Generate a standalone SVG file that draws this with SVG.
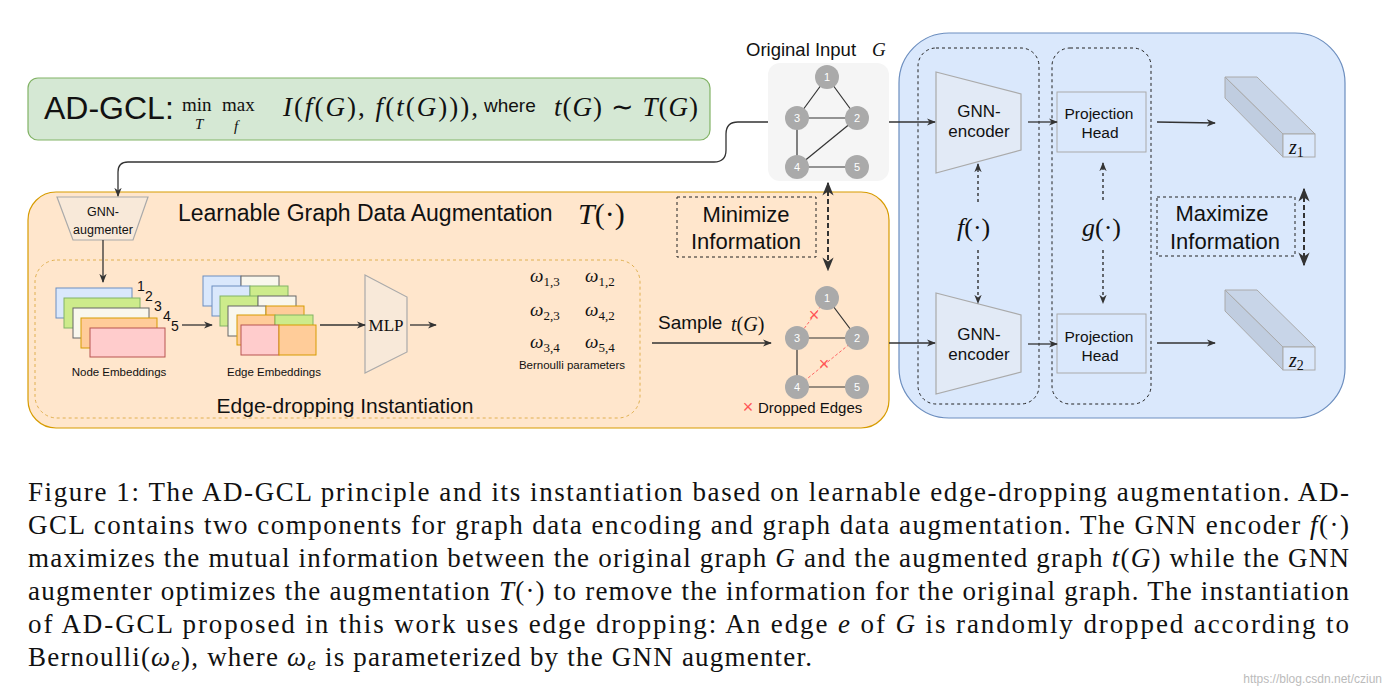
<svg xmlns="http://www.w3.org/2000/svg" width="1392" height="696" viewBox="0 0 1392 696">
<defs>
<marker id="ar" viewBox="0 0 10 10" refX="9" refY="5" markerWidth="7" markerHeight="7" orient="auto-start-reverse"><path d="M0,1 L10,5 L0,9 L3,5 Z" fill="#333"/></marker>
<style>
.s{font-family:"Liberation Sans",Arial,sans-serif;fill:#111}
.m{font-family:"Liberation Serif","Times New Roman",serif;font-style:italic;fill:#111}
.r{font-family:"Liberation Serif","Times New Roman",serif;fill:#111}
.ln{stroke:#333;stroke-width:1.3;fill:none}
.dl{stroke:#222;stroke-width:1.3;fill:none;stroke-dasharray:3 3}
.nd{fill:#aaa}
.nt{font-family:"Liberation Sans",Arial,sans-serif;font-size:11px;fill:#fff;text-anchor:middle}
.ed{stroke:#333;stroke-width:1.2}
.cap{font-family:"Liberation Serif","Times New Roman",serif;font-size:27px;fill:#111}
.trap{fill:#eee;fill-opacity:0.4;stroke:#aaa;stroke-width:1.2}
</style>
</defs>
<rect width="1392" height="696" fill="#fff"/>
<g id="panel-blue"><rect x="899" y="33" width="446" height="385" rx="50" fill="#dae8fc" stroke="#6c8ebf" stroke-width="1.2"/></g>
<g id="panel-orange"><rect x="28" y="192" width="861" height="236" rx="28" fill="#ffe6cc" stroke="#d79b00" stroke-width="1.2"/>
<rect x="35" y="260" width="605" height="158" rx="22" fill="none" stroke="#e0b050" stroke-dasharray="3 3"/>
<text class="s" x="178" y="221" font-size="23">Learnable Graph Data Augmentation</text>
<text class="m" x="578" y="224" font-size="30">T<tspan class="r" font-style="normal">(·)</tspan></text>
<text class="s" x="345" y="413" font-size="21" text-anchor="middle">Edge-dropping Instantiation</text></g>
<g id="objective"><rect x="28" y="78" width="682" height="62" rx="10" fill="#d5e8d4" stroke="#82b366" stroke-width="1.2"/>
<text class="s" x="44" y="119" font-size="32">AD-GCL:</text>
<text class="r" x="182" y="111" font-size="19">min</text><text class="m" x="195" y="129" font-size="15">T</text>
<text class="r" x="222" y="111" font-size="19">max</text><text class="m" x="234" y="131" font-size="15">f</text>
<text class="m" x="283" y="116" font-size="27" textLength="195" lengthAdjust="spacing">I<tspan class="r" font-style="normal">(</tspan>f<tspan class="r" font-style="normal">(</tspan>G<tspan class="r" font-style="normal">), </tspan>f<tspan class="r" font-style="normal">(</tspan>t<tspan class="r" font-style="normal">(</tspan>G<tspan class="r" font-style="normal">))),</tspan></text>
<text class="s" x="484" y="112" font-size="19">where</text>
<text class="m" x="554" y="116" font-size="27" textLength="144" lengthAdjust="spacing">t<tspan class="r" font-style="normal">(</tspan>G<tspan class="r" font-style="normal">) ∼ </tspan>T<tspan class="r" font-style="normal">(</tspan>G<tspan class="r" font-style="normal">)</tspan></text></g>
<g id="original-input">
<text class="s" x="746" y="56" font-size="18.5">Original Input</text><text class="m" x="872" y="56" font-size="19">G</text>
<rect x="768" y="63" width="121" height="118" rx="12" fill="#f5f5f5"/>
<line class="ed" x1="827" y1="77" x2="797" y2="118"/><line class="ed" x1="827" y1="77" x2="857" y2="118"/><line class="ed" x1="797" y1="118" x2="857" y2="118"/><line class="ed" x1="797" y1="118" x2="797" y2="167"/><line class="ed" x1="857" y1="118" x2="797" y2="167"/><line class="ed" x1="797" y1="167" x2="857" y2="167"/>
<circle class="nd" cx="827" cy="77" r="12"/><circle class="nd" cx="797" cy="118" r="12"/><circle class="nd" cx="857" cy="118" r="12"/><circle class="nd" cx="797" cy="167" r="12"/><circle class="nd" cx="857" cy="167" r="12"/>
<text class="nt" x="827" y="81">1</text><text class="nt" x="797" y="122">3</text><text class="nt" x="857" y="122">2</text><text class="nt" x="797" y="171">4</text><text class="nt" x="857" y="171">5</text></g>
<g id="sampled-graph">
<line x1="827" y1="298" x2="797" y2="338" stroke="#f66" stroke-dasharray="3 2"/><line x1="857" y1="338" x2="797" y2="387" stroke="#f66" stroke-dasharray="3 2"/>
<line class="ed" x1="827" y1="298" x2="857" y2="338"/><line class="ed" x1="797" y1="338" x2="857" y2="338"/><line class="ed" x1="797" y1="338" x2="797" y2="387"/><line class="ed" x1="797" y1="387" x2="857" y2="387"/>
<text x="814" y="321" font-size="18" fill="#f55" text-anchor="middle" font-family="Liberation Sans,sans-serif">×</text><text x="824" y="370" font-size="18" fill="#f55" text-anchor="middle" font-family="Liberation Sans,sans-serif">×</text>
<circle class="nd" cx="827" cy="298" r="12"/><circle class="nd" cx="797" cy="338" r="12"/><circle class="nd" cx="857" cy="338" r="12"/><circle class="nd" cx="797" cy="387" r="12"/><circle class="nd" cx="857" cy="387" r="12"/>
<text class="nt" x="827" y="302">1</text><text class="nt" x="797" y="342">3</text><text class="nt" x="857" y="342">2</text><text class="nt" x="797" y="391">4</text><text class="nt" x="857" y="391">5</text>
<text x="748" y="413" font-size="18" fill="#f55" text-anchor="middle" font-family="Liberation Sans,sans-serif">×</text><text class="s" x="758" y="413" font-size="15">Dropped Edges</text></g>
<g id="minimize"><rect x="677" y="197" width="139" height="60" fill="none" stroke="#222" stroke-dasharray="3 3"/>
<text class="s" x="746" y="222" font-size="22" text-anchor="middle">Minimize</text><text class="s" x="746" y="249" font-size="22" text-anchor="middle">Information</text></g>
<g id="gnn-augmenter"><polygon class="trap" points="57,197 148,197 133,240 73,240" fill="#fff"/>
<text class="s" x="103" y="216" font-size="12.5" text-anchor="middle">GNN-</text><text class="s" x="103" y="234" font-size="12.5" text-anchor="middle">augmenter</text></g>
<g id="node-embeddings">
<rect x="56" y="288" width="76" height="30" fill="#dae8fc" stroke="#6c8ebf"/>
<rect x="64" y="298" width="76" height="30" fill="#cdeb8b" stroke="#82b366"/>
<rect x="73" y="308" width="76" height="30" fill="#f9f7ed" stroke="#666"/>
<rect x="81" y="318" width="76" height="30" fill="#ffcc99" stroke="#d79b00"/>
<rect x="90" y="328" width="75" height="29" fill="#ffcccc" stroke="#b85450"/>
<g class="s" font-size="14"><text x="137" y="291">1</text><text x="145" y="301">2</text><text x="154" y="311">3</text><text x="163" y="321">4</text><text x="171" y="331">5</text></g>
<text class="s" x="119" y="376" font-size="11.5" text-anchor="middle">Node Embeddings</text></g>
<g id="edge-embeddings">
<rect x="203" y="276" width="38" height="30" fill="#dae8fc" stroke="#6c8ebf"/><rect x="241" y="276" width="38" height="30" fill="#f9f7ed" stroke="#666"/>
<rect x="212" y="286" width="38" height="30" fill="#dae8fc" stroke="#6c8ebf"/><rect x="250" y="286" width="38" height="30" fill="#cdeb8b" stroke="#82b366"/>
<rect x="220" y="296" width="38" height="30" fill="#cdeb8b" stroke="#82b366"/><rect x="258" y="296" width="38" height="30" fill="#f9f7ed" stroke="#666"/>
<rect x="228" y="306" width="38" height="30" fill="#f9f7ed" stroke="#666"/><rect x="266" y="306" width="38" height="30" fill="#ffcc99" stroke="#d79b00"/>
<rect x="237" y="315" width="38" height="30" fill="#ffcc99" stroke="#d79b00"/><rect x="275" y="315" width="38" height="30" fill="#cdeb8b" stroke="#82b366"/>
<rect x="241" y="325" width="38" height="30" fill="#ffcccc" stroke="#b85450"/><rect x="279" y="325" width="37" height="30" fill="#ffcc99" stroke="#d79b00"/>
<text class="s" x="274" y="376" font-size="11.5" text-anchor="middle">Edge Embeddings</text></g>
<g id="mlp"><polygon class="trap" points="365,275 407,297 407,352 365,373"/><text class="r" x="386" y="331" font-size="17" text-anchor="middle">MLP</text></g>
<g id="bernoulli"><g class="m" font-size="19">
<text x="530" y="282">ω<tspan font-size="13" font-style="normal" dy="4">1,3</tspan></text><text x="585" y="282">ω<tspan font-size="13" font-style="normal" dy="4">1,2</tspan></text>
<text x="530" y="316">ω<tspan font-size="13" font-style="normal" dy="4">2,3</tspan></text><text x="585" y="316">ω<tspan font-size="13" font-style="normal" dy="4">4,2</tspan></text>
<text x="530" y="348">ω<tspan font-size="13" font-style="normal" dy="4">3,4</tspan></text><text x="585" y="348">ω<tspan font-size="13" font-style="normal" dy="4">5,4</tspan></text></g>
<text class="s" x="572" y="369" font-size="11.5" text-anchor="middle">Bernoulli parameters</text></g>
<g id="encoders">
<rect x="918" y="48" width="121" height="356" rx="18" fill="none" stroke="#222" stroke-dasharray="3 3"/>
<rect x="1052" y="48" width="99" height="356" rx="18" fill="none" stroke="#222" stroke-dasharray="3 3"/>
<polygon class="trap" points="936,72 1021,94 1021,150 936,173"/>
<polygon class="trap" points="936,293 1021,315 1021,372 936,394"/>
<g class="s" font-size="17" text-anchor="middle"><text x="979" y="117">GNN-</text><text x="979" y="137">encoder</text><text x="979" y="340">GNN-</text><text x="979" y="360">encoder</text></g>
<text class="m" x="957" y="236" font-size="26">f<tspan class="r" font-style="normal">(·)</tspan></text>
<rect x="1057" y="92" width="89" height="60" fill="#dae8fc" stroke="#aaa"/><rect x="1057" y="314" width="89" height="59" fill="#dae8fc" stroke="#aaa"/>
<g class="s" font-size="15.5" text-anchor="middle"><text x="1099" y="119">Projection</text><text x="1100" y="138">Head</text><text x="1099" y="342">Projection</text><text x="1100" y="361">Head</text></g>
<text class="m" x="1082" y="236" font-size="26">g<tspan class="r" font-style="normal">(·)</tspan></text></g>
<g id="outputs">
<polygon points="1225,77 1257,77 1315,134 1283,134" fill="#c8d5e8" stroke="#aaa"/><polygon points="1225,77 1283,134 1283,157 1225,98" fill="#c0cde0" stroke="#aaa"/><rect x="1283" y="134" width="32" height="23" fill="#dae8fc" stroke="#aaa"/>
<text class="m" x="1289" y="154" font-size="20">z<tspan font-style="normal" font-size="14" dy="3">1</tspan></text>
<polygon points="1225,290 1257,290 1315,347 1283,347" fill="#c8d5e8" stroke="#aaa"/><polygon points="1225,290 1283,347 1283,370 1225,311" fill="#c0cde0" stroke="#aaa"/><rect x="1283" y="347" width="32" height="23" fill="#dae8fc" stroke="#aaa"/>
<text class="m" x="1289" y="367" font-size="20">z<tspan font-style="normal" font-size="14" dy="3">2</tspan></text>
<rect x="1157" y="197" width="138" height="59" fill="none" stroke="#222" stroke-dasharray="3 3"/>
<text class="s" x="1222" y="221" font-size="22" text-anchor="middle">Maximize</text><text class="s" x="1225" y="249" font-size="22" text-anchor="middle">Information</text></g>
<g id="connectors">
<path class="ln" d="M768,122 H738 Q726,122 726,134 V150 Q726,162 714,162 H128 Q118,162 118,172 V196" marker-end="url(#ar)"/>
<line class="ln" x1="103" y1="240" x2="103" y2="282" marker-end="url(#ar)"/>
<line class="ln" x1="182" y1="325" x2="212" y2="325" marker-end="url(#ar)"/>
<line class="ln" x1="320" y1="325" x2="365" y2="325" marker-end="url(#ar)"/>
<line class="ln" x1="410" y1="325" x2="436" y2="325" marker-end="url(#ar)"/>
<line class="ln" x1="652" y1="343" x2="771" y2="343" marker-end="url(#ar)"/>
<text class="s" x="658" y="329" font-size="19">Sample</text><text class="m" x="731" y="331" font-size="20">t<tspan class="r" font-style="normal">(</tspan>G<tspan class="r" font-style="normal">)</tspan></text>
<line class="ln" x1="889" y1="122" x2="935" y2="122" marker-end="url(#ar)"/>
<line class="ln" x1="889" y1="343" x2="935" y2="343" marker-end="url(#ar)"/>
<line class="ln" x1="1028" y1="122" x2="1057" y2="122" marker-end="url(#ar)"/>
<line class="ln" x1="1028" y1="344" x2="1057" y2="344" marker-end="url(#ar)"/>
<line class="ln" x1="1157" y1="122" x2="1215" y2="123" marker-end="url(#ar)"/>
<line class="ln" x1="1157" y1="343" x2="1215" y2="343" marker-end="url(#ar)"/>
<line class="dl" x1="978" y1="202" x2="978" y2="164" marker-end="url(#ar)"/>
<line class="dl" x1="978" y1="250" x2="978" y2="303" marker-end="url(#ar)"/>
<line class="dl" x1="1103" y1="200" x2="1103" y2="163" marker-end="url(#ar)"/>
<line class="dl" x1="1103" y1="250" x2="1103" y2="303" marker-end="url(#ar)"/>
<line x1="1304" y1="189" x2="1304" y2="265" stroke="#333" stroke-width="2" stroke-dasharray="5 3" marker-start="url(#ar)" marker-end="url(#ar)"/>
<line x1="828" y1="183" x2="828" y2="270" stroke="#333" stroke-width="2" stroke-dasharray="5 3" marker-start="url(#ar)" marker-end="url(#ar)"/>
</g>
<g id="caption">
<text class="cap" x="28" y="501" textLength="1321" lengthAdjust="spacing">Figure 1: The AD-GCL principle and its instantiation based on learnable edge-dropping augmentation. AD-</text>
<text class="cap" x="28" y="534" textLength="1321" lengthAdjust="spacing">GCL contains two components for graph data encoding and graph data augmentation. The GNN encoder <tspan font-style="italic">f</tspan>(·)</text>
<text class="cap" x="28" y="567" textLength="1321" lengthAdjust="spacing">maximizes the mutual information between the original graph <tspan font-style="italic">G</tspan> and the augmented graph <tspan font-style="italic">t</tspan>(<tspan font-style="italic">G</tspan>) while the GNN</text>
<text class="cap" x="28" y="600" textLength="1321" lengthAdjust="spacing">augmenter optimizes the augmentation <tspan font-style="italic">T</tspan>(·) to remove the information for the original graph. The instantiation</text>
<text class="cap" x="28" y="633" textLength="1321" lengthAdjust="spacing">of AD-GCL proposed in this work uses edge dropping: An edge <tspan font-style="italic">e</tspan> of <tspan font-style="italic">G</tspan> is randomly dropped according to</text>
<text class="cap" x="28" y="666" textLength="784" lengthAdjust="spacing">Bernoulli(<tspan font-style="italic">ω<tspan font-size="19" dy="4">e</tspan></tspan><tspan dy="-4">), where </tspan><tspan font-style="italic">ω<tspan font-size="19" dy="4">e</tspan></tspan><tspan dy="-4"> is parameterized by the GNN augmenter.</tspan></text>
<text x="1382" y="683" font-size="12" fill="#bbb" text-anchor="end" font-family="Liberation Sans,sans-serif">https://blog.csdn.net/cziun</text>
</g>
</svg>
